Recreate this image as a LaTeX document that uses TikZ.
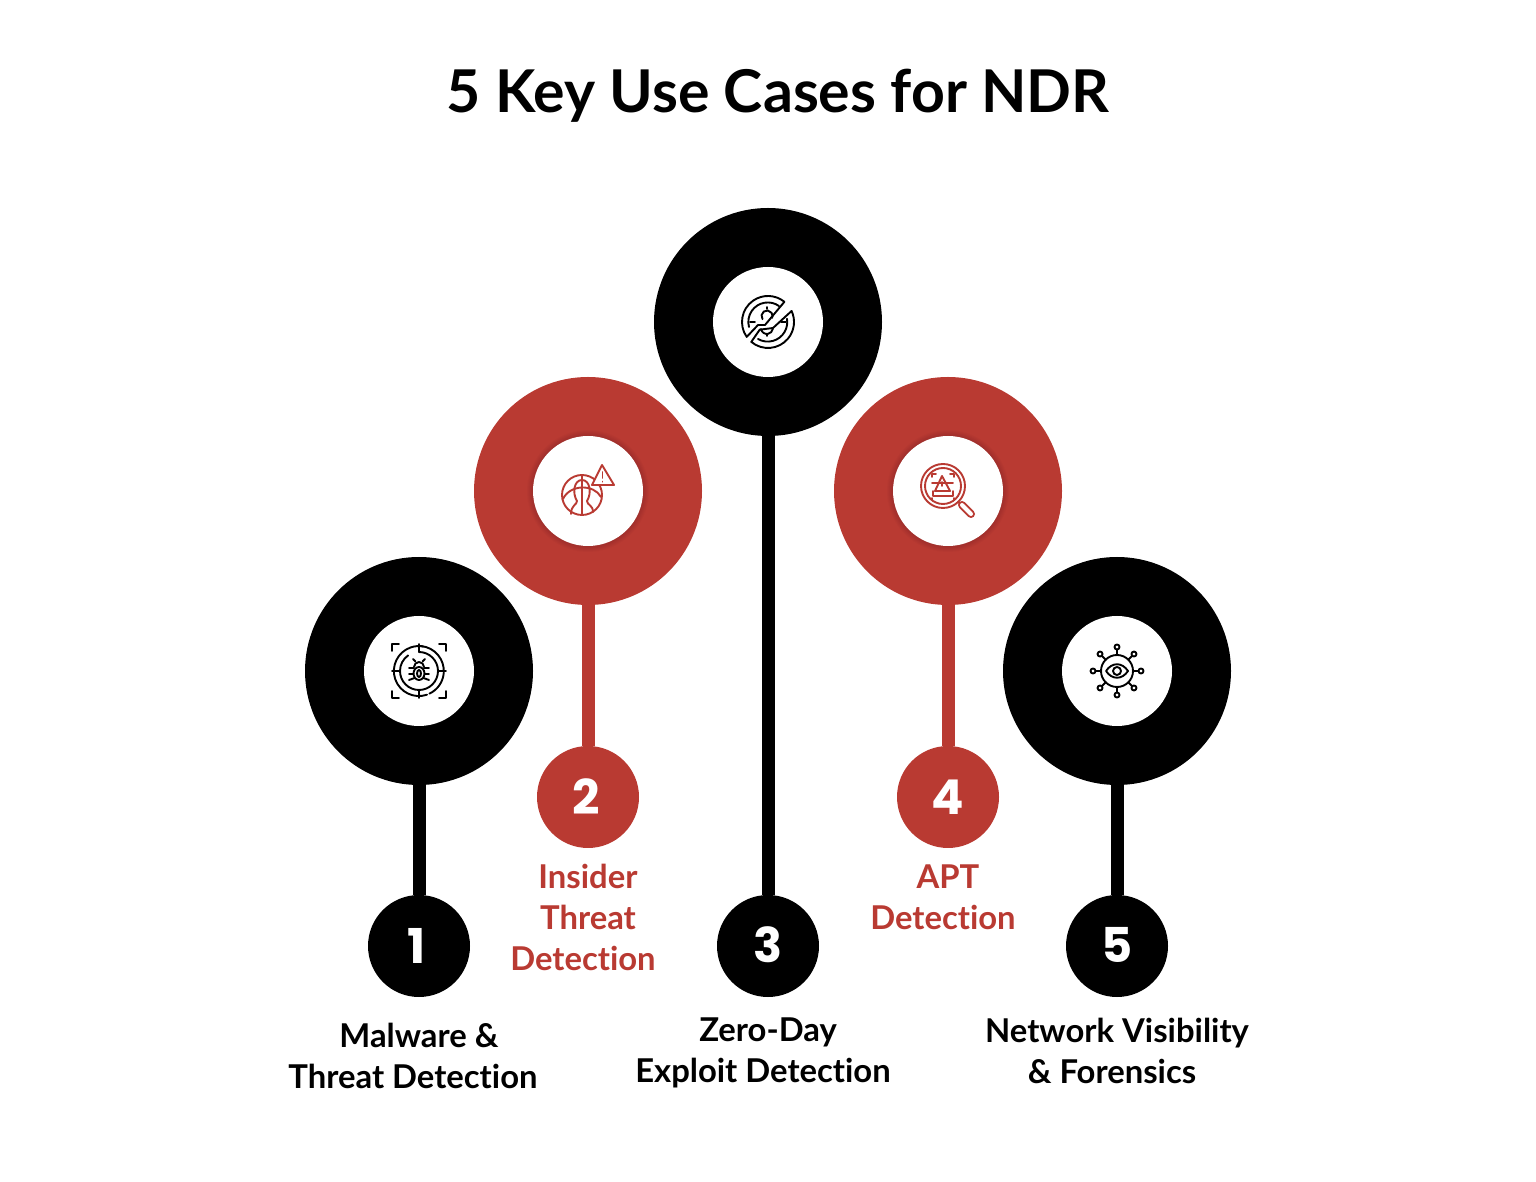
\documentclass[tikz,border=0pt]{standalone}
\usepackage{fontspec}
\setmainfont{Lato}[Ligatures=CommonOff]
\newfontfamily\numfont{Poppins}
\usetikzlibrary{backgrounds}
\definecolor{brick}{HTML}{B93A32}
\tikzset{
  x=1pt,y=1pt,
  ring/.style={circle,inner sep=0pt,minimum size=228pt,fill=#1},
  hole/.style={circle,inner sep=0pt,minimum size=110pt,fill=white},
  badge/.style={circle,inner sep=0pt,minimum size=102pt,fill=#1,text=white,font=\numfont\bfseries\fontsize{48}{48}\selectfont},
  stem/.style={line width=13pt,draw=#1},
  lbl/.style={text=#1,font=\bfseries\fontsize{32.8}{41}\selectfont,align=center,inner sep=0pt},
  icon/.style={draw=#1,line width=1.9pt,line cap=round,line join=round,fill=none},
}
\newcommand{\softedge}[1]{%
  \foreach \rr in {61,60,59,58,57,56}{\fill[black,opacity=0.018] (#1) circle[radius=\rr pt];}
  \node[hole] at (#1) {};}
\begin{document}
\begin{tikzpicture}
\useasboundingbox (0,0) rectangle (1536,1181);
\node[inner sep=0pt,font=\bfseries\fontsize{59}{59}\selectfont] (title) at (778,1085) {5 Key Use Cases for NDR};

\node[ring=black] (c1) at (419,510) {};
\node[ring=brick] (c2) at (588,690) {};
\node[ring=black] (c3) at (768,859) {};
\node[ring=brick] (c4) at (948,690) {};
\node[ring=black] (c5) at (1117,510) {};

\node[badge=black] (n1) at (419,235) {\raisebox{-2pt}{1}\kern5pt};
\node[badge=brick] (n2) at (588,384) {2\kern3pt};
\node[badge=black] (n3) at (768,235) {\raisebox{2pt}{3}};
\node[badge=brick] (n4) at (948,384) {4};
\node[badge=black] (n5) at (1117,235) {\raisebox{2pt}{5}};

\begin{scope}[on background layer]
\draw[stem=black] (c1) -- (n1);
\draw[stem=brick] (c2) -- (n2);
\draw[stem=black] (c3) -- (n3);
\draw[stem=brick] (c4) -- (n4);
\draw[stem=black] (c5) -- (n5);
\end{scope}

\node[hole] (h1) at (c1) {};
\softedge{c2}
\node[hole] (h3) at (c3) {};
\softedge{c4}
\node[hole] (h5) at (c5) {};

\node[lbl=black] (t1) at (413,125) {\hspace*{12pt}Malware \&\\Threat Detection};
\node[lbl=brick] (t2) at (583,264) {\hspace*{10pt}Insider\\\hspace*{10pt}Threat\\Detection};
\node[lbl=black] (t3) at (763,128) {\hspace*{10pt}Zero-Day\\Exploit Detection};
\node[lbl=brick] (t4) at (943,284) {\hspace*{10pt}APT\\Detection};
\node[lbl=black] (t5) at (1117,130.5) {Network Visibility\\\hspace*{-10pt}\& Forensics};

% icon 1: bug in a target
\begin{scope}[shift={(c1)},icon=black]
\draw (-27,20)--(-27,27)--(-20,27) (20,27)--(27,27)--(27,20) (27,-20)--(27,-27)--(20,-27) (-20,-27)--(-27,-27)--(-27,-20);
\draw (0,-27)--(0,-19) (0,19)--(0,27) (-27,0)--(-19,0) (19,0)--(27,0);
\draw (2,24.9) arc[start angle=85,end angle=-65,radius=25pt];
\draw (8,-23.7) arc[start angle=-71,end angle=-280,radius=25pt];
\draw (0,19) arc[start angle=90,end angle=-235,radius=19pt];
\draw (0,-2.5) ellipse[x radius=5.5pt,y radius=6.5pt];
\draw (0,-2.5) ellipse[x radius=2pt,y radius=3.5pt];
\draw (-5,4) arc[start angle=180,end angle=0,radius=5pt];
\draw (-6,12)--(-3.5,9.5) (6,12)--(3.5,9.5);
\draw (-5,3)--(-10,3) (5,3)--(10,3) (-5.5,-3)--(-10,-3) (5.5,-3)--(10,-3) (-4.5,-7)--(-10,-9) (4.5,-7)--(10,-9);
\end{scope}

% icon 2: person on a globe with a warning
\begin{scope}[shift={(c2)},icon=brick]
\draw (-6,-4) circle[radius=20pt];
\draw (-25,-8) .. controls (-18,7) and (6,7) .. (13,-6);
\draw (-6,16)--(-6,-24);
\draw (-17,-23) .. controls (-17,-14) and (-11,-14) .. (-11,-10) .. controls (-16,-2) and (-14,11) .. (-6,11) .. controls (2,11) and (4,-2) .. (-1,-10) .. controls (-1,-14) and (5,-14) .. (5,-21);
\draw[fill=white] (14,26) -- (4,6) -- (26,6) -- cycle;
\draw (14.5,19)--(14.5,13) (14.5,9.5)--(14.5,9.4);
\end{scope}

% icon 3: crossed out bulb dial
\begin{scope}[shift={(c3)},icon=black]
\draw (16.4,20.2) -- (-3,-3) -- (-10,-3) -- (-21.3,-14.9) arc[start angle=215,end angle=51,radius=26pt];
\draw (-16.7,-19.9) arc[start angle=230,end angle=385,radius=26pt] -- (5,-6) -- (-8.3,-7.7) -- cycle;
\draw (11,16) arc[start angle=55,end angle=195,radius=19.5pt];
\draw (-10,-17) arc[start angle=240,end angle=370,radius=19.5pt];
\draw (-5.5,2.85) arc[start angle=215,end angle=-20,radius=5.5pt];
\draw (-1,15)--(-1,13) (-18,0)--(-13,0) (13,0)--(18,0) (-1,-12)--(-1,-14);
\draw (-7,-7) arc[start angle=190,end angle=350,radius=6pt];
\end{scope}

% icon 4: magnifier over a car warning
\begin{scope}[shift={(c4)},icon=brick]
\draw (-5,5) circle[radius=22pt];
\draw (-5,5) circle[radius=18pt];
\draw (10,-11)--(14,-14);
\draw[line width=8pt] (14,-14)--(23,-23);
\draw[white,line width=4pt] (14,-14)--(23,-23);
\draw (-6,15)--(-13,0)--(2,0)--cycle;
\draw (-16,8)--(5,8);
\draw (-15,0)--(-15,-5)--(5,-5)--(5,0);
\draw (-16,14)--(-16,17)--(-12,17) (6,14)--(6,17)--(2,17) (-16,-7)--(-16,-9) (6,-7)--(6,-9);
\draw (-6,9)--(-6,5);
\end{scope}

% icon 5: eye in a network hub
\begin{scope}[shift={(c5)},icon=black]
\draw (0,0) circle[radius=16pt];
\draw (-11,0) .. controls (-5,9) and (5,9) .. (11,0) .. controls (5,-9) and (-5,-9) .. (-11,0) -- cycle;
\draw (0,0) circle[radius=4pt];
\foreach \a in {0,45,...,315}{
  \draw (\a:16pt)--(\a:21.5pt);
  \draw (\a:24pt) circle[radius=2.5pt];
}
\end{scope}
\end{tikzpicture}
\end{document}
